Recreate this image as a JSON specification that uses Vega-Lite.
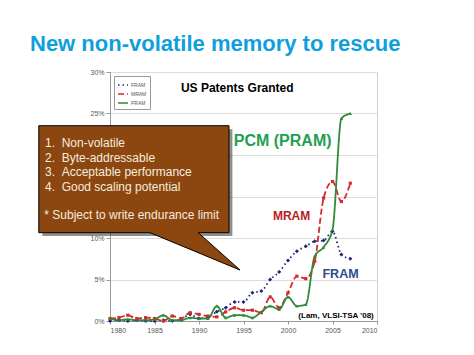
{
  "$schema": "https://vega.github.io/schema/vega-lite/v6.json",
  "width": 267,
  "height": 249,
  "autosize": "none",
  "padding": {"left": 110, "top": 72, "right": 97, "bottom": 34},
  "background": "white",
  "title": {"text": "New non-volatile memory to rescue", "anchor": "start", "frame": "group", "dx": -80, "offset": 12, "fontSize": 22, "font": "Liberation Sans", "fontWeight": "bold", "color": "#0ea0dc"},
  "config": {"view": {"stroke": "#cfcfcf"}, "font": "Liberation Sans"},
  "datasets": {
    "patents": [
      {"series": "FRAM", "year": 1980, "pct": 0.0}, {"series": "FRAM", "year": 1981, "pct": 0.1}, {"series": "FRAM", "year": 1982, "pct": 0.0}, {"series": "FRAM", "year": 1983, "pct": 0.1}, {"series": "FRAM", "year": 1984, "pct": 0.0}, {"series": "FRAM", "year": 1985, "pct": 0.0}, {"series": "FRAM", "year": 1986, "pct": 0.1}, {"series": "FRAM", "year": 1987, "pct": 0.0}, {"series": "FRAM", "year": 1988, "pct": 0.2}, {"series": "FRAM", "year": 1989, "pct": 0.8}, {"series": "FRAM", "year": 1990, "pct": 0.3}, {"series": "FRAM", "year": 1991, "pct": 0.5}, {"series": "FRAM", "year": 1992, "pct": 1.1}, {"series": "FRAM", "year": 1993, "pct": 1.6}, {"series": "FRAM", "year": 1994, "pct": 2.3}, {"series": "FRAM", "year": 1995, "pct": 2.3}, {"series": "FRAM", "year": 1996, "pct": 3.4}, {"series": "FRAM", "year": 1997, "pct": 3.6}, {"series": "FRAM", "year": 1998, "pct": 5.0}, {"series": "FRAM", "year": 1999, "pct": 5.9}, {"series": "FRAM", "year": 2000, "pct": 7.3}, {"series": "FRAM", "year": 2001, "pct": 8.4}, {"series": "FRAM", "year": 2002, "pct": 9.0}, {"series": "FRAM", "year": 2003, "pct": 9.6}, {"series": "FRAM", "year": 2004, "pct": 9.7}, {"series": "FRAM", "year": 2005, "pct": 10.8}, {"series": "FRAM", "year": 2006, "pct": 8.0}, {"series": "FRAM", "year": 2007, "pct": 7.5},
      {"series": "MRAM", "year": 1980, "pct": 0.3}, {"series": "MRAM", "year": 1981, "pct": 0.4}, {"series": "MRAM", "year": 1982, "pct": 0.7}, {"series": "MRAM", "year": 1983, "pct": 0.3}, {"series": "MRAM", "year": 1984, "pct": 0.4}, {"series": "MRAM", "year": 1985, "pct": 0.3}, {"series": "MRAM", "year": 1986, "pct": 0.0}, {"series": "MRAM", "year": 1987, "pct": 0.6}, {"series": "MRAM", "year": 1988, "pct": 0.3}, {"series": "MRAM", "year": 1989, "pct": 1.0}, {"series": "MRAM", "year": 1990, "pct": 0.8}, {"series": "MRAM", "year": 1991, "pct": 0.6}, {"series": "MRAM", "year": 1992, "pct": 0.5}, {"series": "MRAM", "year": 1993, "pct": 1.1}, {"series": "MRAM", "year": 1994, "pct": 1.6}, {"series": "MRAM", "year": 1995, "pct": 1.3}, {"series": "MRAM", "year": 1996, "pct": 1.3}, {"series": "MRAM", "year": 1997, "pct": 1.0}, {"series": "MRAM", "year": 1998, "pct": 2.9}, {"series": "MRAM", "year": 1999, "pct": 1.6}, {"series": "MRAM", "year": 2000, "pct": 3.4}, {"series": "MRAM", "year": 2001, "pct": 5.4}, {"series": "MRAM", "year": 2002, "pct": 5.1}, {"series": "MRAM", "year": 2003, "pct": 7.2}, {"series": "MRAM", "year": 2004, "pct": 14.8}, {"series": "MRAM", "year": 2005, "pct": 16.8}, {"series": "MRAM", "year": 2006, "pct": 14.4}, {"series": "MRAM", "year": 2007, "pct": 16.6},
      {"series": "PRAM", "year": 1980, "pct": 0.3}, {"series": "PRAM", "year": 1981, "pct": 0.1}, {"series": "PRAM", "year": 1982, "pct": 0.2}, {"series": "PRAM", "year": 1983, "pct": 0.1}, {"series": "PRAM", "year": 1984, "pct": 0.1}, {"series": "PRAM", "year": 1985, "pct": 0.2}, {"series": "PRAM", "year": 1986, "pct": 0.7}, {"series": "PRAM", "year": 1987, "pct": 0.1}, {"series": "PRAM", "year": 1988, "pct": 0.1}, {"series": "PRAM", "year": 1989, "pct": 0.4}, {"series": "PRAM", "year": 1990, "pct": 0.3}, {"series": "PRAM", "year": 1991, "pct": 0.3}, {"series": "PRAM", "year": 1992, "pct": 1.8}, {"series": "PRAM", "year": 1993, "pct": 0.4}, {"series": "PRAM", "year": 1994, "pct": 0.7}, {"series": "PRAM", "year": 1995, "pct": 0.7}, {"series": "PRAM", "year": 1996, "pct": 0.4}, {"series": "PRAM", "year": 1997, "pct": 1.1}, {"series": "PRAM", "year": 1998, "pct": 1.8}, {"series": "PRAM", "year": 1999, "pct": 1.4}, {"series": "PRAM", "year": 2000, "pct": 2.9}, {"series": "PRAM", "year": 2001, "pct": 1.8}, {"series": "PRAM", "year": 2002, "pct": 2.0}, {"series": "PRAM", "year": 2003, "pct": 7.8}, {"series": "PRAM", "year": 2004, "pct": 8.9}, {"series": "PRAM", "year": 2005, "pct": 11.0}, {"series": "PRAM", "year": 2006, "pct": 24.4}, {"series": "PRAM", "year": 2007, "pct": 25.0}
    ]
  },
  "encoding": {
    "x": {"field": "year", "type": "quantitative", "title": null, "scale": {"domain": [1980, 2010], "nice": false, "zero": false},
      "axis": {"values": [1980, 1985, 1990, 1995, 2000, 2005, 2010], "format": "d", "labelFontSize": 7, "labelColor": "#555", "domainColor": "#999", "tickColor": "#999", "tickSize": 3, "grid": false, "labelPadding": 2}},
    "y": {"field": "pct", "type": "quantitative", "title": null, "scale": {"domain": [0, 30], "nice": false},
      "axis": {"values": [0, 5, 10, 15, 20, 25, 30], "labelExpr": "datum.value == 15 || datum.value == 20 ? '' : datum.value + '%'", "labelFontSize": 7, "labelColor": "#555", "domainColor": "#999", "tickColor": "#999", "tickSize": 4, "gridColor": "#dcdcdc", "labelPadding": 2}}
  },
  "layer": [
    {
      "data": {"name": "patents"},
      "mark": {"type": "line", "interpolate": "monotone", "strokeWidth": 1.8},
      "encoding": {
        "color": {"field": "series", "type": "nominal", "scale": {"domain": ["FRAM", "MRAM", "PRAM"], "range": ["#1b2a7a", "#d42a2a", "#2e8b3a"]},
          "legend": {"orient": "top-left", "offset": 4, "title": null, "padding": 3, "strokeColor": "#999", "fillColor": "#ffffff", "labelFontSize": 5, "labelColor": "#555", "symbolType": "stroke", "symbolSize": 100, "symbolStrokeWidth": 1.5, "rowPadding": 0, "labelOffset": 2}},
        "strokeDash": {"field": "series", "type": "nominal", "scale": {"domain": ["FRAM", "MRAM", "PRAM"], "range": [[1.5, 3], [6, 3], [1, 0]]},
          "legend": {"orient": "top-left", "offset": 4, "title": null, "padding": 3, "strokeColor": "#999", "fillColor": "#ffffff", "labelFontSize": 5, "labelColor": "#555", "symbolType": "stroke", "symbolSize": 100, "symbolStrokeWidth": 1.5, "rowPadding": 0, "labelOffset": 2}}
      }
    },
    {
      "data": {"name": "patents"},
      "transform": [{"filter": "datum.series == 'FRAM'"}],
      "mark": {"type": "point", "filled": true, "size": 16, "opacity": 1, "shape": "diamond", "color": "#1b2a7a"}
    },
    {
      "data": {"name": "patents"},
      "transform": [{"filter": "datum.series == 'MRAM'"}],
      "mark": {"type": "point", "filled": true, "size": 10, "opacity": 1, "shape": "square", "color": "#d42a2a"}
    },
    {
      "data": {"name": "patents"},
      "transform": [{"filter": "datum.series == 'PRAM'"}],
      "mark": {"type": "point", "filled": true, "size": 12, "opacity": 1, "shape": "triangle-up", "color": "#2e8b3a"}
    },
    {
      "data": {"values": [{"year": 1994.3, "pct": 28.1, "label": "US Patents Granted"}]},
      "mark": {"type": "text", "fontSize": 12, "fontWeight": "bold", "color": "#000", "align": "center", "baseline": "middle"},
      "encoding": {"text": {"field": "label"}}
    },
    {
      "data": {"values": [{"year": 1999.4, "pct": 21.7, "label": "PCM (PRAM)"}]},
      "mark": {"type": "text", "fontSize": 16, "fontWeight": "bold", "color": "#22a04f", "align": "center", "baseline": "middle"},
      "encoding": {"text": {"field": "label"}}
    },
    {
      "data": {"values": [{"year": 2000.4, "pct": 12.7, "label": "MRAM"}]},
      "mark": {"type": "text", "fontSize": 12, "fontWeight": "bold", "color": "#bb1a22", "align": "center", "baseline": "middle"},
      "encoding": {"text": {"field": "label"}}
    },
    {
      "data": {"values": [{"year": 2005.9, "pct": 5.7, "label": "FRAM"}]},
      "mark": {"type": "text", "fontSize": 12.5, "fontWeight": "bold", "color": "#2b4d8c", "align": "center", "baseline": "middle"},
      "encoding": {"text": {"field": "label"}}
    },
    {
      "data": {"values": [{"year": 2005.4, "pct": 0.64, "label": "(Lam, VLSI-TSA '08)"}]},
      "mark": {"type": "text", "fontSize": 8, "fontWeight": "bold", "color": "#000", "align": "center", "baseline": "middle"},
      "encoding": {"text": {"field": "label"}}
    },
    {
      "data": {"values": [{"year": 1972.4, "year2": 1993.75, "pct": 23.1, "pct2": 10.24}]},
      "mark": {"type": "rect", "color": "#333", "opacity": 0.55},
      "encoding": {"x2": {"field": "year2"}, "y2": {"field": "pct2"}}
    },
    {
      "data": {"values": [{"year": 1972.0, "year2": 1993.37, "pct": 23.53, "pct2": 10.64}]},
      "mark": {"type": "rect", "color": "#8c4710", "stroke": "#000", "strokeWidth": 1},
      "encoding": {"x2": {"field": "year2"}, "y2": {"field": "pct2"}}
    },
    {
      "data": {"values": [
        {"year": 1984.49, "pct": 10.64, "pct2": 10.75},
        {"year": 1989.85, "pct": 8.26, "pct2": 10.75},
        {"year": 1989.92, "pct": 8.225, "pct2": 10.64},
        {"year": 1994.61, "pct": 6.14, "pct2": 6.14}
      ]},
      "mark": {"type": "area", "color": "#8c4710", "interpolate": "linear", "opacity": 1},
      "encoding": {"y2": {"field": "pct2"}}
    },
    {
      "data": {"values": [
        {"year": 1984.49, "pct": 10.64, "year2": 1994.61, "pct2": 6.14},
        {"year": 1989.92, "pct": 10.64, "year2": 1994.61, "pct2": 6.14}
      ]},
      "mark": {"type": "rule", "color": "#000", "strokeWidth": 1},
      "encoding": {"x2": {"field": "year2"}, "y2": {"field": "pct2"}}
    },
    {
      "data": {"values": [
        {"year": 1972.7, "pct": 21.41, "label": "1."},
        {"year": 1972.7, "pct": 19.6, "label": "2."},
        {"year": 1972.7, "pct": 17.91, "label": "3."},
        {"year": 1972.7, "pct": 16.18, "label": "4."},
        {"year": 1972.62, "pct": 12.73, "label": "* Subject to write endurance limit"}
      ]},
      "mark": {"type": "text", "fontSize": 12, "color": "#f5ecdf", "align": "left", "baseline": "middle"},
      "encoding": {"text": {"field": "label"}}
    },
    {
      "data": {"values": [
        {"year": 1974.57, "pct": 21.41, "label": "Non-volatile"},
        {"year": 1974.57, "pct": 19.6, "label": "Byte-addressable"},
        {"year": 1974.57, "pct": 17.91, "label": "Acceptable performance"},
        {"year": 1974.57, "pct": 16.18, "label": "Good scaling potential"}
      ]},
      "mark": {"type": "text", "fontSize": 12, "color": "#f5ecdf", "align": "left", "baseline": "middle"},
      "encoding": {"text": {"field": "label"}}
    }
  ]
}
